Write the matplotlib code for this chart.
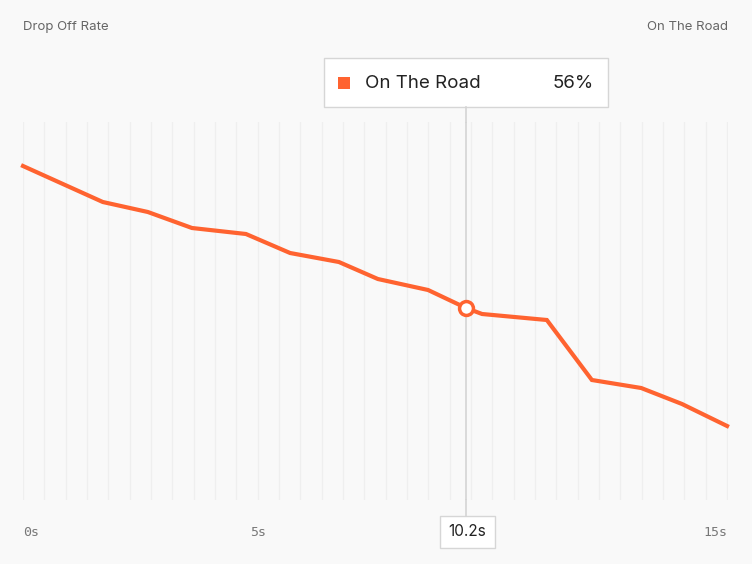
import matplotlib
matplotlib.use("Agg")
import matplotlib.pyplot as plt
from matplotlib.patches import Rectangle

x_sec = [0.0, 1.70, 2.66, 3.60, 4.75, 5.69, 6.73, 7.56, 8.63, 9.44, 9.78, 11.16, 12.12, 13.17, 14.04, 15.0]
drop = [84.4, 77.2, 75.2, 72.0, 70.8, 67.0, 65.2, 61.8, 59.6, 56.0, 54.8, 53.6, 41.6, 40.0, 36.8, 32.4]
x_labels = ["0s", "5s", "15s"]
x_label_pos = [0, 5, 15]
cursor_x = 9.44
cursor_label = "10.2s"
series_name = "On The Road"
cursor_value = "56%"

bg = "#f9f9f9"
orange = "#ff6330"
W, H = 752, 564
fig = plt.figure(figsize=(7.52, 5.64), dpi=100, facecolor=bg)
ax = fig.add_axes([23/W, (H-500)/H, 705/W, 378/H], facecolor=bg)
ax.set_xlim(0, 15.02)
ax.set_ylim(17.6, 93.2)
for i in range(34):
    ax.axvline(i*15/33, color="#efefef", lw=1, zorder=0)
ax.axvline(cursor_x, color="#d4d4d4", lw=1.2, zorder=1)
ax.plot(x_sec, drop, color=orange, lw=3, solid_joinstyle="miter", zorder=2, clip_on=False)
ax.plot([cursor_x], [56.0], "o", ms=10, mfc="white", mec=orange, mew=2.5, zorder=3)
for s in ax.spines.values():
    s.set_visible(False)
ax.set_xticks([]); ax.set_yticks([])

# cursor line down to label
fig.add_artist(plt.Line2D([466/W, 466/W], [(H-500)/H, (H-516)/H], color="#d4d4d4", lw=1.2))
fig.add_artist(plt.Line2D([466/W, 466/W], [(H-107)/H, (H-122)/H], color="#d4d4d4", lw=1.2))

fig.text(23/W, 1-27/H, "Drop Off Rate", fontsize=9.5, color="#666666", va="center", family="Inter")
fig.text(728/W, 1-27/H, series_name, fontsize=9.5, color="#666666", va="center", ha="right", family="Inter")

for lab, p in zip(x_labels, x_label_pos):
    px = 23 + p*705/15.02
    ha = "left" if p == 0 else ("right" if p == 15 else "center")
    fig.text(px/W, 1-532/H, lab, fontsize=9.5, color="#777777", va="center", ha=ha, family="DejaVu Sans Mono")

# x cursor label box
fig.add_artist(Rectangle((440/W, (H-548)/H), 55/W, 32/H, facecolor="white", edgecolor="#d6d6d6", lw=1))
fig.text(467/W, 1-532/H, cursor_label, fontsize=11, color="#222222", va="center", ha="center", family="Inter")

# tooltip
fig.add_artist(Rectangle((324/W, (H-107)/H), 284/W, 49/H, facecolor="white", edgecolor="#d6d6d6", lw=1))
fig.add_artist(Rectangle((338/W, (H-89)/H), 12/W, 12/H, facecolor=orange, edgecolor="none"))
fig.text(365/W, 1-83/H, series_name, fontsize=13.5, color="#222222", va="center", family="Inter")
fig.text(594/W, 1-83/H, cursor_value, fontsize=13.5, color="#222222", va="center", ha="right", family="Inter")

fig.savefig("out.png", dpi=100, facecolor=bg)
